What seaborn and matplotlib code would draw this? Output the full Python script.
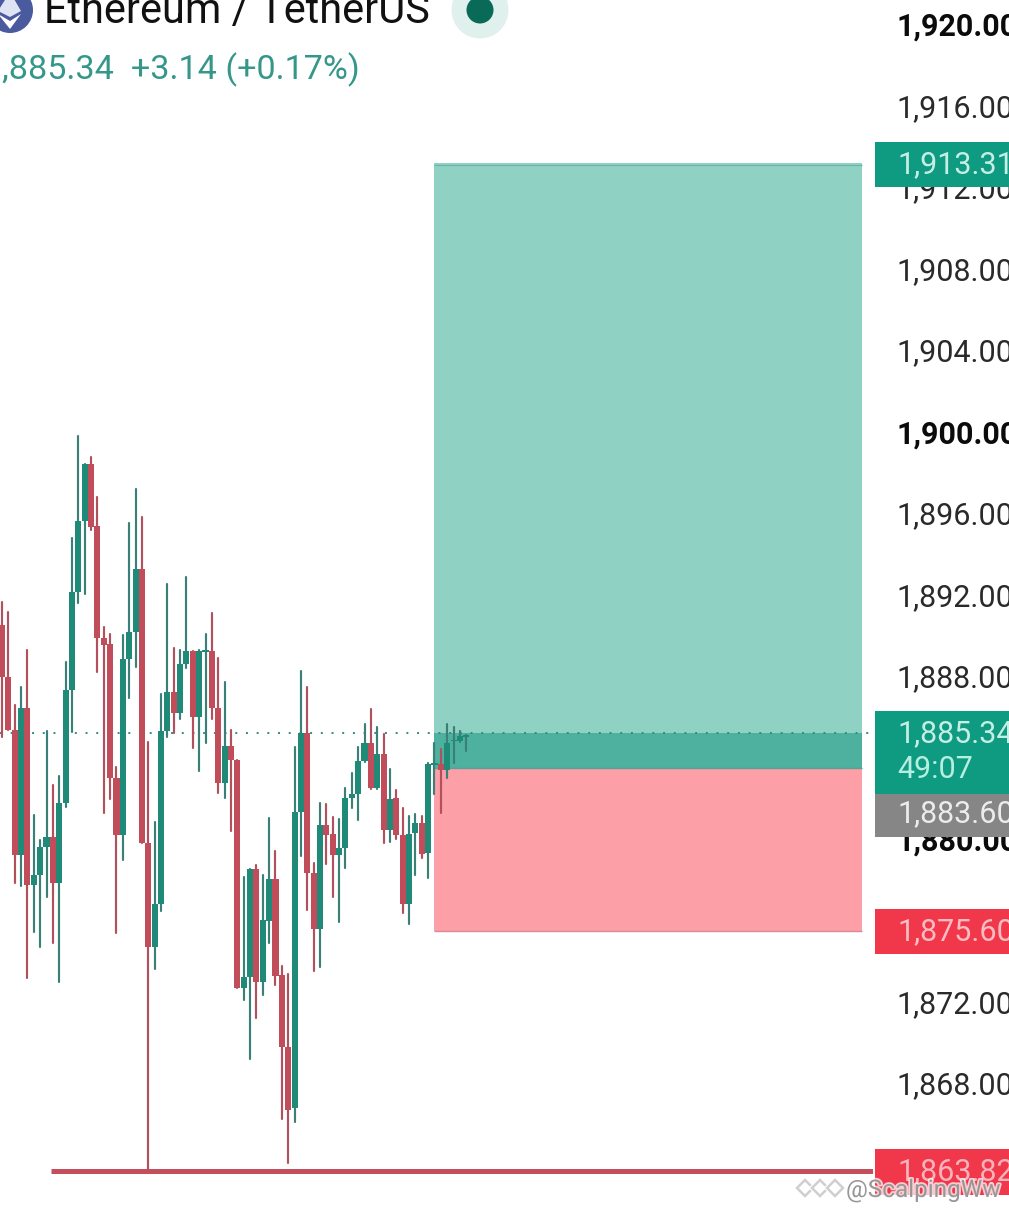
import numpy as np
import pandas as pd
import matplotlib
matplotlib.use("Agg")
import matplotlib.pyplot as plt
from matplotlib.patches import Circle, Polygon, Rectangle
from matplotlib.transforms import ScaledTranslation
import matplotlib.patheffects as pe
import seaborn as sns

# ---------- data (prices) ----------
direction = list("RRRGRGGGRGGGGGRRRRRGGGRRGGGRGGRGGRRGRRGGRGGRRRGGRRGRRGGGGGRGRGRRGGRGGRGGGG")
body_top = [1890.64,1888.09,1885.49,1886.57,1886.57,1878.37,1879.74,1880.23,1880.23,1881.90,
            1887.45,1892.26,1895.75,1898.55,1898.55,1895.50,1890.00,1889.71,1883.13,1888.97,
            1890.30,1893.39,1893.39,1879.94,1876.94,1885.44,1887.35,1887.35,1888.73,1889.37,
            1889.37,1889.37,1889.41,1889.37,1886.57,1884.70,1884.70,1884.01,1873.36,1878.66,
            1878.66,1876.16,1878.17,1878.17,1873.46,1869.92,1881.46,1885.34,1885.34,1878.47,
            1880.82,1880.82,1880.38,1879.69,1882.15,1882.34,1883.97,1884.85,1884.85,1884.31,
            1884.31,1882.10,1882.15,1880.33,1880.38,1880.92,1880.92,1883.82,1883.87,1883.82,
            1884.85,1885.00,1885.19,1885.24]
body_bot = [1888.09,1885.49,1879.35,1879.35,1877.88,1877.88,1878.37,1879.74,1877.97,1877.97,
            1881.90,1887.45,1892.26,1895.75,1895.45,1890.00,1889.66,1883.13,1880.33,1880.33,
            1888.97,1890.30,1879.94,1874.83,1874.83,1876.94,1885.44,1886.32,1886.32,1888.73,
            1886.12,1886.12,1889.32,1886.57,1882.88,1882.88,1884.01,1872.82,1872.82,1873.36,
            1873.11,1873.11,1876.11,1873.41,1869.92,1866.83,1866.93,1881.46,1878.47,1875.72,
            1875.72,1880.33,1879.35,1879.35,1879.69,1882.15,1882.34,1883.97,1882.64,1882.64,
            1880.58,1880.58,1880.33,1876.94,1876.94,1880.43,1879.40,1879.45,1883.77,1883.52,
            1883.52,1884.95,1884.95,1885.14]
high = [1891.77,1891.28,1886.71,1887.60,1889.41,1881.31,1880.09,1885.44,1882.79,1883.23,
        1888.83,1894.91,1899.92,1898.55,1898.89,1896.93,1890.54,1890.20,1883.67,1890.15,
        1895.65,1897.32,1895.95,1884.90,1880.97,1887.26,1892.66,1889.51,1889.41,1893.00,
        1889.37,1889.41,1890.20,1891.23,1889.02,1887.84,1885.49,1884.01,1878.27,1878.66,
        1878.86,1878.37,1881.17,1879.54,1873.90,1873.51,1884.65,1888.38,1887.60,1878.96,
        1881.90,1881.85,1881.21,1881.12,1882.64,1883.37,1884.65,1885.78,1886.52,1885.63,
        1885.29,1883.57,1882.54,1881.66,1881.26,1881.36,1881.26,1883.87,1884.85,1884.55,
        1885.78,1885.63,1885.44,1885.24]
low = [1885.14,1885.49,1877.97,1877.83,1873.31,1875.57,1874.83,1877.29,1875.03,1873.11,
       1881.70,1885.39,1891.72,1892.17,1895.31,1888.33,1881.41,1882.10,1875.52,1879.10,
       1887.06,1888.58,1879.94,1863.78,1873.75,1876.60,1885.14,1885.34,1886.03,1888.53,
       1884.60,1883.47,1884.85,1886.03,1882.39,1882.15,1880.53,1872.82,1872.23,1869.33,
       1871.35,1872.48,1875.03,1872.97,1866.39,1864.23,1866.24,1879.30,1876.65,1873.66,
       1873.85,1878.91,1877.29,1876.06,1878.71,1881.66,1881.07,1883.92,1882.59,1882.59,
       1879.94,1879.99,1880.14,1876.50,1875.96,1878.37,1879.20,1878.22,1882.34,1881.41,
       1883.13,1883.87,1884.90,1884.46]

axis_prices = [1920, 1916, 1912, 1908, 1904, 1900, 1896, 1892, 1888, 1880, 1872, 1868]
bold_prices = [1920, 1900, 1880]

last_price = 1885.34
entry_price = 1883.60
target_price = 1913.31
stop_price = 1875.60
support_price = 1863.82
zone_start, zone_end = 67.9, 135.2
support_start = 7.7

title_text = "Ethereum / TetherUS"
quote_text = ",885.34  +3.14 (+0.17%)"
countdown_text = "49:07"
watermark_text = "@ScalpingWw"

# ---------- style ----------
GREEN, RED = "#1f8a78", "#c14c5a"
WICK_G, WICK_R = "#3a8077", "#b2505d"
sns.set_theme(style="white")
plt.rcParams["font.family"] = ["Roboto", "DejaVu Sans"]

W, H = 1009, 1213
fig = plt.figure(figsize=(W / 100, H / 100), dpi=100, facecolor="white")
ax = fig.add_axes([0, 0, 873 / W, 1])

PX_PER_UNIT = 20.365
Y_TOP = 1920 + 27 / PX_PER_UNIT
Y_BOT = Y_TOP - H / PX_PER_UNIT
STEP = 6.36
ax.set_ylim(Y_BOT, Y_TOP)
ax.set_xlim(-2 / STEP, (873 - 2) / STEP)
sns.despine(ax=ax, left=True, bottom=True, right=True, top=True)

# ---------- trade zones ----------
ax.fill_between([zone_start, zone_end], entry_price, target_price, color="#8fd1c3", lw=0, zorder=1)
ax.fill_between([zone_start, zone_end], entry_price, last_price, color="#4eb09e", lw=0, zorder=1.1)
ax.fill_between([zone_start, zone_end], stop_price, entry_price, color="#fd9fa7", lw=0, zorder=1)
ax.hlines(target_price - 0.08, zone_start, zone_end, color="#6bb5a8", lw=0.8, zorder=1.2)
ax.hlines(entry_price, zone_start, zone_end, color="#5f9e92", lw=1, zorder=1.2)
ax.hlines(stop_price, zone_start, zone_end, color="#d98a92", lw=1, zorder=1.2)

# ---------- candles ----------
idx = np.arange(len(direction))
frame = pd.DataFrame({"candle": idx, "dir": direction, "high": high, "low": low,
                      "top": body_top, "bot": body_bot})
wicks = frame.melt(id_vars=["candle", "dir"], value_vars=["high", "low"], value_name="price")
sns.lineplot(data=wicks, x="candle", y="price", hue="dir", units="candle", estimator=None,
             sort=False, palette={"G": WICK_G, "R": WICK_R}, lw=1.55, legend=False, ax=ax, zorder=3)
ax.bar(frame["candle"], frame["top"] - frame["bot"], bottom=frame["bot"], width=0.95,
       color=[GREEN if d == "G" else RED for d in direction], lw=0, zorder=3.2)

# ---------- price lines ----------
ax.axhline(last_price, color="#2b8f80", lw=1.4, ls=(0, (1, 4.5)), zorder=2.5)
ax.hlines(support_price, support_start, ax.get_xlim()[1], color="#c44f5c", lw=3.6, zorder=4)

# ---------- price axis ----------
ax.yaxis.tick_right()
ax.set_yticks(axis_prices)
ax.set_yticklabels([f"{p:,.2f}" for p in axis_prices])
ax.set_xticks([])
ax.set_xlabel("")
ax.set_ylabel("")
ax.tick_params(axis="y", length=0, pad=16.8, labelsize=22, labelcolor="#1c1c1c")
for tick, p in zip(ax.yaxis.get_major_ticks(), axis_prices):
    lab = tick.label2
    lab.set_fontweight("bold" if p in bold_prices else "normal")
    lab.set_color("#0b0b0b" if p in bold_prices else "#2a2a2a")
    lab.set_transform(lab.get_transform() + ScaledTranslation(0, 3 / 100, fig.dpi_scale_trans))

# ---------- price tags ----------
ov = fig.add_axes([0, 0, 1, 1], zorder=5)
ov.set_xlim(0, W)
ov.set_ylim(Y_BOT, Y_TOP)
ov.axis("off")
ov.patch.set_alpha(0)
U = 1 / PX_PER_UNIT
def tag(price, px_above, px_below, color):
    bottom = price - px_below * U
    ov.add_patch(Rectangle((875, bottom), W - 875, (px_above + px_below) * U, color=color, lw=0))
tag(target_price, 21, 24, "#0f9a82")
tag(last_price, 22, 61, "#0f9a82")
tag(last_price, -61, 104, "#868686")
tag(stop_price, 22, 23, "#f0384a")
tag(support_price, 22, 24, "#f0384a")
for price, dy, txt, col in [(target_price, -1, f"{target_price:,.2f}", "#c5efe4"),
                            (last_price, 0, f"{last_price:,.2f}", "#c5efe4"),
                            (last_price, -36, countdown_text, "#b5efe0"),
                            (last_price, -80, f"{entry_price:,.2f}", "#ececec"),
                            (stop_price, 0, f"{stop_price:,.2f}", "#fbbcc4"),
                            (support_price, 0, f"{support_price:,.2f}", "#f9b3bd")]:
    ov.text(897, price + (dy - 0.5) * U, txt, color=col, fontsize=22, va="center", ha="left", clip_on=True)

# ---------- header and watermark (pixel coordinates) ----------
hd = fig.add_axes([0, 0, 1, 1], zorder=6)
hd.set_xlim(0, W)
hd.set_ylim(H, 0)
hd.axis("off")
hd.patch.set_alpha(0)
hd.add_patch(Circle((10, 10), 23, color="#4a5a9e", lw=0))
hd.add_patch(Polygon([(10, -8), (-2, 11), (10, 17), (21, 11)], color="#dfe4f4", lw=0))
hd.add_patch(Polygon([(10, 21), (-2, 14), (10, 29), (21, 14)], color="#ffffff", lw=0))
hd.add_patch(Circle((480, 10), 28.5, color="#dff0ed", lw=0))
hd.add_patch(Circle((480, 10), 13.5, color="#0a6a58", lw=0))
hd.text(44, 23, title_text, fontsize=29.9, color="#111111", va="baseline", ha="left")
hd.text(2, 79, quote_text, fontsize=24.6, color="#35978a", va="baseline", ha="left")

halo = [pe.withStroke(linewidth=2.5, foreground="#ffffff", alpha=0.75)]
hd.text(846, 1197, watermark_text, fontsize=17.5, color="#8a8a8a", alpha=0.85, va="baseline", ha="left",
        path_effects=halo)
for cx in (805, 820, 835):
    hd.add_patch(Polygon([(cx, 1180), (cx + 8, 1188), (cx, 1196), (cx - 8, 1188)], fill=False,
                         edgecolor="#cfcfcf", lw=1.8, path_effects=[pe.withStroke(linewidth=3.5, foreground="#ffffff")]))

fig.savefig("out.png", dpi=100, facecolor="white")
